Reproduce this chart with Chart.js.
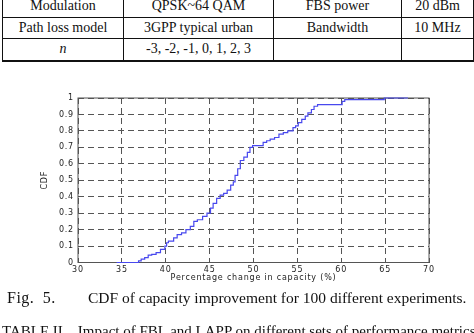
<!DOCTYPE html>
<html>
<head>
<meta charset="utf-8">
<script src="https://cdn.jsdelivr.net/npm/chart.js@4/dist/chart.umd.min.js"></script>
<style>
  html, body { margin: 0; padding: 0; background: #fff; overflow: hidden; }
  body { width: 474px; height: 333px; position: relative; font-family: "Liberation Serif", "Times New Roman", serif; color: #111; }
  #params { position: absolute; left: 2px; top: -5px; width: 471px; border-collapse: collapse; table-layout: fixed; font-size: 14px; }
  #params td { border: 1px solid #111; border-left-width: 1.5px; border-right-width: 1.5px; height: 20.5px; padding: 0; text-align: center; line-height: 20px; }
  #params tr:last-child td { border-bottom-width: 2px; }
  #chart-box { position: absolute; left: 0; top: 0; width: 474px; height: 333px; }
  .caption { position: absolute; top: 290px; font-size: 15.5px; white-space: pre; line-height: 1; }
  #next-table { position: absolute; left: 2px; top: 324px; font-size: 15px; white-space: pre; line-height: 1; }
</style>
</head>
<body>
<table id="params">
  <colgroup><col style="width:121px"><col style="width:150px"><col style="width:128px"><col style="width:72px"></colgroup>
  <tr><td>Modulation</td><td>QPSK~64 QAM</td><td>FBS power</td><td>20 dBm</td></tr>
  <tr><td>Path loss model</td><td>3GPP typical urban</td><td>Bandwidth</td><td>10 MHz</td></tr>
  <tr><td><i>n</i></td><td>-3, -2, -1, 0, 1, 2, 3</td><td></td><td></td></tr>
</table>

<div id="chart-box"><canvas id="cdf-chart"></canvas></div>

<div class="caption" style="left:7px; letter-spacing:0.5px; word-spacing:4px; font-size:16px; top:289.5px">Fig. 5.</div>
<div class="caption" style="left:88px">CDF of capacity improvement for 100 different experiments.</div>
<div id="next-table">TABLE II.   Impact of FBL and LAPP on different sets of performance metrics</div>

<script>
const capacityChange = [34.4, 36.9, 37.2, 37.6, 38.0, 38.4, 38.9, 39.4, 39.9, 40.1, 40.3, 40.9, 41.3, 41.8, 42.3, 42.8,
    43.2, 43.6, 44.2, 44.7, 45.1, 45.4, 45.8, 46.2, 46.6, 47.0, 47.4, 47.7, 47.9, 48.2, 48.5, 48.9, 49.3, 49.6, 49.9,
    50.3, 51.1, 51.5, 51.9, 52.4, 52.9, 53.4, 53.9, 54.5, 54.8, 55.1, 55.5, 55.9, 56.2, 56.6, 56.9, 57.3, 57.6,
    60.1, 60.4, 60.8, 64.9, 65.1, 67.6];
const cdfValues = [0, 0, 0.01, 0.02, 0.03, 0.045, 0.05, 0.06, 0.08, 0.10, 0.12, 0.13, 0.15, 0.17, 0.18, 0.20,
    0.22, 0.25, 0.26, 0.28, 0.30, 0.33, 0.36, 0.39, 0.41, 0.42, 0.44, 0.47, 0.49, 0.53, 0.57, 0.62, 0.64, 0.67, 0.70,
    0.71, 0.71, 0.73, 0.74, 0.75, 0.76, 0.78, 0.79, 0.80, 0.82, 0.83, 0.85, 0.87, 0.89, 0.91, 0.93, 0.95, 0.96,
    0.96, 0.98, 0.99, 0.99, 1.0, 1.0];
const xTicks = [30, 35, 40, 45, 50, 55, 60, 65, 70];
const yTicks = [0, 0.1, 0.2, 0.3, 0.4, 0.5, 0.6, 0.7, 0.8, 0.9, 1];

const axisFont = { family: 'DejaVu Sans', size: 8 };

// matlab style box around the axes + slightly spaced tick text
const framePlugin = {
    id: 'frame',
    beforeDraw(chart) {
        chart.ctx.letterSpacing = '0.8px';
    },
    beforeDatasetsDraw(chart) {
        const { ctx, chartArea: a } = chart;
        ctx.save();
        ctx.strokeStyle = '#555';
        ctx.lineWidth = 1;
        ctx.setLineDash([]);
        ctx.strokeRect(a.left, a.top, a.right - a.left, a.bottom - a.top);
        ctx.restore();
    }
};

new Chart(document.getElementById('cdf-chart').getContext('2d'), {
    type: 'line',
    data: {
        datasets: [{
            data: capacityChange.map((x, i) => ({ x: x, y: cdfValues[i] })),
            borderColor: '#4848ee',
            borderWidth: 1.2,
            pointRadius: 0,
            stepped: 'after',
            fill: false,
            clip: false,
        }],
    },
    options: {
        responsive: true,
        maintainAspectRatio: false,
        animation: false,
        layout: { padding: { left: 0, right: 45, top: 98, bottom: 44.5 } },
        plugins: { legend: { display: false }, tooltip: { enabled: false } },
        scales: {
            x: {
                type: 'linear',
                min: 30,
                max: 70,
                afterBuildTicks: s => { s.ticks = xTicks.map(v => ({ value: v })); },
                afterFit: s => { s.height = 26; },
                grid: { color: '#555', drawTicks: false, lineWidth: 1 },
                border: { display: false, dash: [6, 4] },
                ticks: { color: '#222', font: axisFont, padding: 3, maxRotation: 0 },
                title: { display: true, text: 'Percentage change in capacity (%)', color: '#222', font: axisFont, padding: { bottom: 5.7 } },
            },
            y: {
                min: 0,
                max: 1,
                afterBuildTicks: s => { s.ticks = yTicks.map(v => ({ value: v })); },
                afterFit: s => { s.width = 78; },
                grid: { color: '#555', drawTicks: false, lineWidth: 1 },
                border: { display: false, dash: [6, 4] },
                ticks: {
                    color: '#222', font: axisFont, padding: 4,
                    callback: v => (v === 0 || v === 1) ? String(v) : v.toFixed(1),
                },
                title: { display: true, text: 'CDF', color: '#222', font: axisFont, padding: { top: 40 } },
            },
        },
    },
    plugins: [framePlugin],
});
</script>
</body>
</html>
